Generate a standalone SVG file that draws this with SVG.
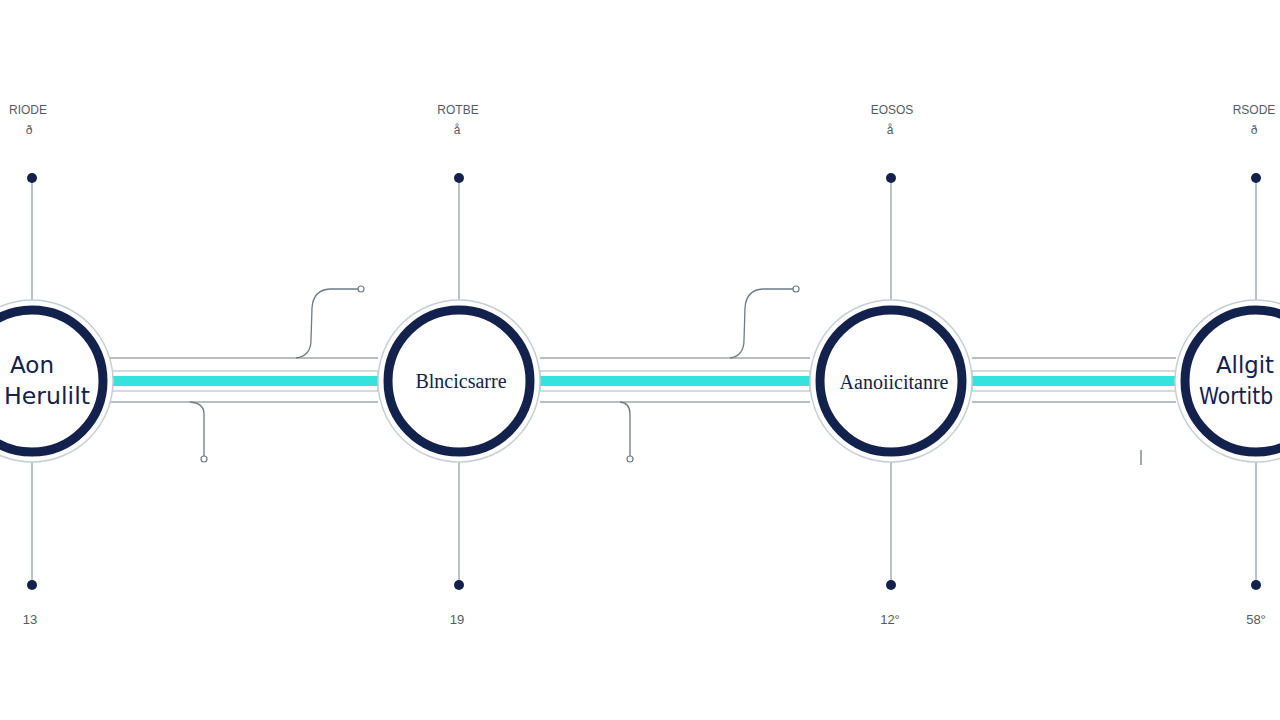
<svg xmlns="http://www.w3.org/2000/svg" width="1280" height="720" viewBox="0 0 1280 720">
<style>
.stem{stroke:#a9b2b9;stroke-width:1.6;fill:none}
.dot{fill:#13214d}
.outer{fill:#fff;stroke:#c6cfd4;stroke-width:1.5}
.ring{fill:#fff;stroke:#13214d;stroke-width:9}
.thin{stroke:#9ea8b0;stroke-width:1.5;fill:none}
.band{fill:#fff;stroke:#b8c2c8;stroke-width:1.2}
.cyan{fill:#35e3dc}
.hook{stroke:#6f7a84;stroke-width:1.3;fill:none}
.hc{fill:#fff;stroke:#6f7a84;stroke-width:1.2}
.lbl{font-family:"Liberation Sans",Arial,sans-serif;font-size:12px;fill:#555b62;text-anchor:middle}
.num{font-family:"Liberation Sans",Arial,sans-serif;font-size:13px;fill:#555b62;text-anchor:middle}
.big{font-family:"DejaVu Sans",sans-serif;font-size:23px;fill:#13214d}
.mid{font-family:"Liberation Serif",serif;font-size:20px;fill:#13214d;text-anchor:middle}
</style>
<rect width="1280" height="720" fill="#fff"/>
<g id="connectors">
  <g>
    <line class="thin" x1="110" y1="358" x2="378" y2="358"/>
    <rect class="band" x="110" y="371" width="268" height="20"/>
    <rect class="cyan" x="110" y="376" width="268" height="10"/>
    <line class="thin" x1="110" y1="402" x2="378" y2="402"/>
    <path class="hook" d="M296 358 Q311 356 311 340 L312 308 Q313 290 330 289 L358 289"/>
    <circle class="hc" cx="361" cy="289" r="3"/>
    <path class="hook" d="M190 402 Q204 403 204 414 L204 456"/>
    <circle class="hc" cx="204" cy="459" r="3"/>
  </g>
  <g>
    <line class="thin" x1="540" y1="358" x2="810" y2="358"/>
    <rect class="band" x="540" y="371" width="270" height="20"/>
    <rect class="cyan" x="540" y="376" width="270" height="10"/>
    <line class="thin" x1="540" y1="402" x2="810" y2="402"/>
    <path class="hook" d="M730 358 Q744 356 744 340 L745 308 Q746 290 763 289 L793 289"/>
    <circle class="hc" cx="796" cy="289" r="3"/>
    <path class="hook" d="M620 402 Q630 403 630 414 L630 456"/>
    <circle class="hc" cx="630" cy="459" r="3"/>
  </g>
  <g>
    <line class="thin" x1="972" y1="358" x2="1176" y2="358"/>
    <rect class="band" x="972" y="371" width="204" height="20"/>
    <rect class="cyan" x="972" y="376" width="204" height="10"/>
    <line class="thin" x1="972" y1="402" x2="1176" y2="402"/>
    <line class="hook" x1="1141" y1="450" x2="1141" y2="465"/>
  </g>
</g>
<g id="node1">
  <line class="stem" x1="32" y1="178" x2="32" y2="300"/>
  <line class="stem" x1="32" y1="462" x2="32" y2="585"/>
  <circle class="dot" cx="32" cy="178" r="5"/>
  <circle class="dot" cx="32" cy="585" r="5"/>
  <circle class="outer" cx="32" cy="381" r="81"/>
  <circle class="ring" cx="32" cy="381" r="71"/>
  <text class="big" x="32" y="373" text-anchor="middle">Aon</text>
  <text class="big" x="4" y="404" textLength="86" lengthAdjust="spacingAndGlyphs">Herulilt</text>
  <text class="lbl" x="28" y="114">RIODE</text>
  <text class="lbl" x="29" y="134">ð</text>
  <text class="num" x="30" y="624">13</text>
</g>
<g id="node2">
  <line class="stem" x1="459" y1="178" x2="459" y2="300"/>
  <line class="stem" x1="459" y1="462" x2="459" y2="585"/>
  <circle class="dot" cx="459" cy="178" r="5"/>
  <circle class="dot" cx="459" cy="585" r="5"/>
  <circle class="outer" cx="459" cy="381" r="81"/>
  <circle class="ring" cx="459" cy="381" r="71"/>
  <text class="mid" x="461" y="388">Blncicsarre</text>
  <text class="lbl" x="458" y="114">ROTBE</text>
  <text class="lbl" x="457" y="134">å</text>
  <text class="num" x="457" y="624">19</text>
</g>
<g id="node3">
  <line class="stem" x1="891" y1="178" x2="891" y2="300"/>
  <line class="stem" x1="891" y1="462" x2="891" y2="585"/>
  <circle class="dot" cx="891" cy="178" r="5"/>
  <circle class="dot" cx="891" cy="585" r="5"/>
  <circle class="outer" cx="891" cy="381" r="81"/>
  <circle class="ring" cx="891" cy="381" r="71"/>
  <text class="mid" x="894" y="389">Aanoiicitanre</text>
  <text class="lbl" x="892" y="114">EOSOS</text>
  <text class="lbl" x="890" y="134">å</text>
  <text class="num" x="890" y="624">12°</text>
</g>
<g id="node4">
  <line class="stem" x1="1256" y1="178" x2="1256" y2="300"/>
  <line class="stem" x1="1256" y1="462" x2="1256" y2="585"/>
  <circle class="dot" cx="1256" cy="178" r="5"/>
  <circle class="dot" cx="1256" cy="585" r="5"/>
  <circle class="outer" cx="1256" cy="381" r="81"/>
  <circle class="ring" cx="1256" cy="381" r="71"/>
  <text class="big" x="1274" y="373" text-anchor="end" textLength="58" lengthAdjust="spacingAndGlyphs">Allgit</text>
  <text class="big" x="1273" y="404" text-anchor="end" textLength="74" lengthAdjust="spacingAndGlyphs">Wortitb</text>
  <text class="lbl" x="1254" y="114">RSODE</text>
  <text class="lbl" x="1254" y="134">ð</text>
  <text class="num" x="1256" y="624">58°</text>
</g>
</svg>
